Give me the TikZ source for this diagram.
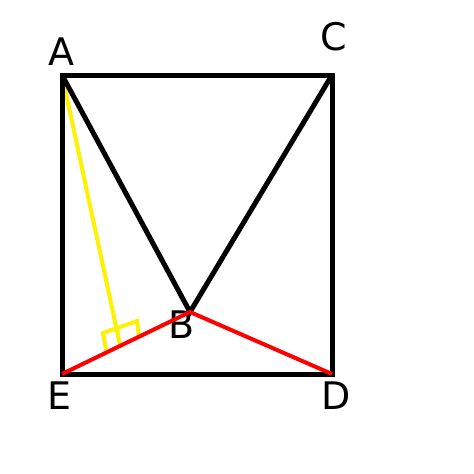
\documentclass[tikz,border=0pt]{standalone}
\usepackage{fontspec}
\setmainfont{DejaVu Sans}
\usepackage{tikz}

\begin{document}
\begin{tikzpicture}[x=1pt,y=-1pt]

      \useasboundingbox (0,0) rectangle (474,474);

      \coordinate (A) at (62,75);
      \coordinate (C) at (332,75);
      \coordinate (D) at (332,374);
      \coordinate (E) at (62,374);
      \coordinate (B) at (190,312);
      \coordinate (F) at (120,345);

      \begin{scope}[every node/.style={font=\fontsize{38}{38}\selectfont}]
        \node (lA) at (61,52)  {A};
        \node (lC) at (334,37) {C};
        \node (lE) at (60,396) {E};
        \node (lD) at (336,396) {D};
        \node (lB) at (182,325) {B};
      \end{scope}

      \begin{scope}[yellow,line width=4pt,line join=miter]
        \draw (A) -- (F);
        \draw ([shift={(-14,5)}]F) -- ([shift={(-17,-12)}]F)
              -- ([shift={(17,-24)}]F) -- ([shift={(19,-8)}]F);
      \end{scope}

      \begin{scope}[line width=5pt,line join=miter]
        \draw (A) -- (C) -- (D) -- (E) -- cycle;
        \draw (A) -- (B) -- (C);
      \end{scope}

      \begin{scope}[red,line width=4pt]
        \draw (E) -- (B) -- (D);
      \end{scope}

    \end{tikzpicture}
\end{document}
